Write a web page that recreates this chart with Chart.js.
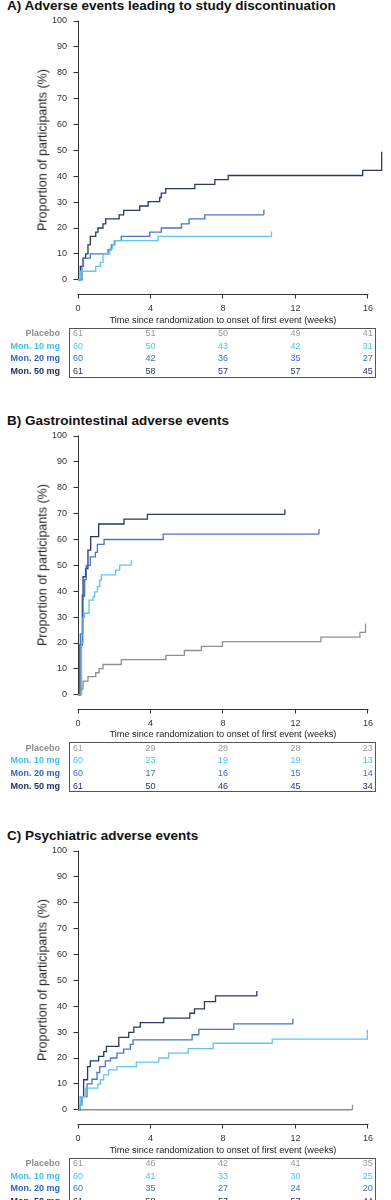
<!DOCTYPE html>
<html><head><meta charset="utf-8">
<script src="https://cdn.jsdelivr.net/npm/chart.js@4.4.1/dist/chart.umd.min.js"></script>
<style>
html,body{margin:0;padding:0;background:#fff;}
body{width:391px;height:1200px;overflow:hidden;position:relative;font-family:'Liberation Sans',Arial,Helvetica,sans-serif;}
.panel{position:absolute;left:0;width:391px;height:414px;}
.ptitle{position:absolute;left:7px;top:-2px;font-weight:bold;font-size:13.5px;line-height:16px;color:#111;white-space:nowrap;}
.cv{position:absolute;left:0;top:12px;}
.ytitle{position:absolute;font-size:12.5px;line-height:15px;color:#222;white-space:nowrap;transform:translate(-50%,-50%) rotate(-90deg);}
.xtitle{position:absolute;font-size:9.2px;line-height:11px;color:#222;white-space:nowrap;transform:translate(-50%,-50%);}
.box{position:absolute;left:69px;top:327.5px;width:305px;height:48px;border:1.5px solid #555;}
.rl{position:absolute;right:331px;font-weight:bold;font-size:9px;line-height:12px;white-space:nowrap;text-align:right;}
.num{position:absolute;font-size:9px;line-height:12px;transform:translateX(-50%);white-space:nowrap;}
</style></head><body>
<script>
// ---------- data ----------
const weekTicks = [0, 4, 8, 12, 16];
const yTicks = [0, 10, 20, 30, 40, 50, 60, 70, 80, 90, 100];
const groups = ['Placebo', 'Mon. 10 mg', 'Mon. 20 mg', 'Mon. 50 mg'];
const panelTitles = ['A) Adverse events leading to study discontinuation', 'B) Gastrointestinal adverse events', 'C) Psychiatric adverse events'];
const yTitle = 'Proportion of participants (%)';
const xTitle = 'Time since randomization to onset of first event (weeks)';

// Panel A: [week, cumulative %]
const aPlacebo = [];
const aMon10 = [[0,0],[0.13,3.3],[0.98,5.2],[1.23,6.7],[1.38,10],[1.75,11.9],[1.9,13.5],[1.99,15.1],[4.42,16.8],[10.68,16.8]];
const aMon20 = [[0,0],[0.22,5.2],[0.3,8.4],[0.68,10],[1.66,11.6],[1.84,13.5],[2.03,15.1],[2.39,16.8],[3.96,18.4],[4.6,20],[5.71,21.6],[6.13,23.5],[7.0,25.1],[10.26,25.1]];
const aMon50 = [[0,0],[0.13,5.2],[0.28,8.4],[0.42,10],[0.55,13.5],[0.68,16.8],[0.98,18.4],[1.1,20],[1.38,21.6],[1.53,23.5],[2.27,25.1],[2.52,26.8],[3.41,28.5],[3.87,30.2],[4.51,31.8],[4.6,33.5],[4.84,35.2],[6.45,36.9],[7.55,38.7],[8.29,40.3],[15.71,42.3],[16.76,47.5]];
// Panel B
const bPlacebo = [[0,0],[0.13,2.2],[0.28,5.3],[0.55,7],[0.98,8.5],[1.16,10.1],[1.38,11.7],[2.39,13.6],[4.85,15.2],[5.87,17.1],[6.81,18.7],[7.97,20.5],[13.41,22.3],[15.56,24.1],[15.87,25.6]];
const bMon10 = [[0,0],[0.2,20],[0.28,29.9],[0.37,31.5],[0.61,36.6],[0.83,37.9],[0.92,39.8],[1.07,41.8],[1.2,44.3],[1.29,46.3],[2.08,48.2],[2.3,50.1],[2.95,50.1]];
const bMon20 = [[0,0],[0.1,19.5],[0.13,23.5],[0.28,38],[0.37,44.5],[0.46,50],[0.68,53.3],[0.96,55],[1.07,58.1],[1.44,60],[4.7,62.1],[13.3,62.1]];
const bMon50 = [[0,0],[0.1,19.3],[0.24,38.5],[0.28,45.6],[0.42,48.8],[0.55,55.9],[0.7,61.1],[1.14,66],[2.54,67.9],[3.83,69.7],[11.42,69.7]];
// Panel C
const cPlacebo = [[0,0],[15.15,0]];
const cMon10 = [[0,0],[0.13,5.1],[0.41,8.4],[1.09,9.9],[1.23,11.6],[1.42,13.5],[1.69,15.4],[2.15,16.7],[3.22,18.4],[4.46,20],[5.0,21.9],[6.08,23.6],[7.46,25.7],[10.72,27.3],[15.97,29]];
const cMon20 = [[0,0],[0.13,1.9],[0.22,5.1],[0.5,10],[0.77,11.8],[1.05,14.4],[1.2,16.7],[1.51,18.9],[1.79,20],[2.15,21.9],[2.52,23.4],[2.89,25.3],[3.04,27],[6.3,29],[6.67,31.1],[8.6,33.2],[11.86,33.2]];
const cMon50 = [[0,0],[0.13,5.1],[0.31,11.6],[0.53,16.7],[0.68,18.9],[1.14,20.6],[1.42,22.5],[1.57,24.5],[2.25,28],[2.8,29.9],[3.08,31.9],[3.44,33.7],[4.73,35.4],[6.17,37.3],[6.43,39],[6.98,41.8],[7.59,44],[9.87,44]];

// Numbers at risk at weeks 0,4,8,12,16
const aRiskPlacebo = [61,51,50,49,41];
const aRiskMon10 = [60,50,43,42,31];
const aRiskMon20 = [60,42,36,35,27];
const aRiskMon50 = [61,58,57,57,45];
const bRiskPlacebo = [61,29,28,28,23];
const bRiskMon10 = [60,23,19,19,13];
const bRiskMon20 = [60,17,16,15,14];
const bRiskMon50 = [61,50,46,45,34];
const cRiskPlacebo = [61,46,42,41,35];
const cRiskMon10 = [60,41,33,30,25];
const cRiskMon20 = [60,35,27,24,20];
const cRiskMon50 = [61,58,57,57,44];

// ---------- styles ----------
const FONT = "'Liberation Sans', Arial, Helvetica, sans-serif";
const lineColors = ['#8f8f8f', '#5cc6f0', '#4a74c8', '#2a3862'];
const labelColors = ['#8c8c8c', '#3dbdec', '#2f62c8', '#1c2b5c'];
const numColors = ['#9a9a9a', '#4cc3ee', '#3d6fcf', '#1f2d5c'];
const panelTops = [0, 414.5, 830];

Chart.defaults.font.family = FONT;

const axisPlugin = {
  id: 'rAxes',
  beforeDatasetsDraw(chart) {
    const {ctx, chartArea, scales: {x, y}} = chart;
    ctx.save();
    ctx.strokeStyle = '#333';
    ctx.lineWidth = 1;
    const lx = Math.round(chartArea.left - 0.5) + 0.5;
    const by = Math.round(chartArea.bottom - 0.5) + 0.5;
    ctx.beginPath();
    ctx.moveTo(lx, y.getPixelForValue(0) + 0.5);
    ctx.lineTo(lx, y.getPixelForValue(100) - 0.5);
    ctx.moveTo(x.getPixelForValue(0) - 0.5, by);
    ctx.lineTo(x.getPixelForValue(16) + 0.5, by);
    ctx.stroke();
    ctx.restore();
  }
};
const censorPlugin = {
  id: 'censor',
  afterDatasetsDraw(chart) {
    const {ctx} = chart;
    chart.data.datasets.forEach((ds, i) => {
      const meta = chart.getDatasetMeta(i);
      if (!meta.data.length) return;
      const el = meta.data[meta.data.length - 1];
      ctx.save();
      ctx.strokeStyle = ds.borderColor;
      ctx.lineWidth = ds.borderWidth;
      ctx.beginPath();
      ctx.moveTo(el.x, el.y);
      ctx.lineTo(el.x, el.y - 5);
      ctx.stroke();
      ctx.restore();
    });
  }
};

function buildPanel(p, series, risks) {
  const panel = document.createElement('div');
  panel.className = 'panel';
  panel.style.top = panelTops[p] + 'px';
  document.body.appendChild(panel);

  const t = document.createElement('div');
  t.className = 'ptitle';
  t.textContent = panelTitles[p];
  panel.appendChild(t);

  const cv = document.createElement('canvas');
  cv.className = 'cv';
  cv.width = 391; cv.height = 314;
  cv.style.width = '391px'; cv.style.height = '314px';
  panel.appendChild(cv);

  const gridOpts = {display: true, drawOnChartArea: false, drawTicks: true, tickLength: 4.5, color: '#333', tickColor: '#333', lineWidth: 1};
  const chart = new Chart(cv, {
    type: 'line',
    data: {
      datasets: series.map((s, i) => ({
        label: groups[i],
        data: s.map(pt => ({x: pt[0], y: pt[1]})),
        borderColor: lineColors[i],
        backgroundColor: lineColors[i],
        borderWidth: 1.3,
        pointRadius: 0,
        stepped: true,
        fill: false,
        tension: 0
      }))
    },
    options: {
      responsive: false,
      animation: false,
      events: [],
      layout: {padding: {top: 9, right: 5, bottom: 0, left: 0}},
      plugins: {legend: {display: false}, tooltip: {enabled: false}, title: {display: false}},
      scales: {
        x: {
          type: 'linear', min: 0, max: 17,
          afterBuildTicks(s) { s.ticks = weekTicks.map(v => ({value: v})); },
          afterFit(s) { s.height = 32; s.paddingLeft = 0; s.paddingRight = 0; },
          grid: gridOpts,
          border: {display: false},
          ticks: {color: '#333', font: {family: FONT, size: 9}, padding: 5.1, maxRotation: 0, autoSkip: false}
        },
        y: {
          type: 'linear', min: -5.5, max: 100,
          afterBuildTicks(s) { s.ticks = yTicks.map(v => ({value: v})); },
          afterFit(s) { s.width = 78; s.paddingTop = 0; s.paddingBottom = 0; },
          grid: gridOpts,
          border: {display: false},
          ticks: {color: '#333', font: {family: FONT, size: 9}, padding: 6.5, autoSkip: false}
        }
      }
    },
    plugins: [axisPlugin, censorPlugin]
  });

  const canvasTop = 12;
  const yt = document.createElement('div');
  yt.className = 'ytitle';
  yt.textContent = yTitle;
  yt.style.left = '43px';
  yt.style.top = (canvasTop + (chart.scales.y.getPixelForValue(100) + chart.scales.y.getPixelForValue(0)) / 2) + 'px';
  panel.appendChild(yt);

  const xt = document.createElement('div');
  xt.className = 'xtitle';
  xt.textContent = xTitle;
  xt.style.left = chart.scales.x.getPixelForValue(8) + 'px';
  xt.style.top = '319.5px';
  panel.appendChild(xt);

  const box = document.createElement('div');
  box.className = 'box';
  panel.appendChild(box);

  risks.forEach((row, r) => {
    const top = 327 + 12.7 * r;
    const lab = document.createElement('div');
    lab.className = 'rl';
    lab.textContent = groups[r];
    lab.style.top = top + 'px';
    lab.style.color = labelColors[r];
    panel.appendChild(lab);
    row.forEach((n, j) => {
      const d = document.createElement('div');
      d.className = 'num';
      d.textContent = n;
      d.style.top = top + 'px';
      d.style.left = chart.scales.x.getPixelForValue(weekTicks[j]) + 'px';
      d.style.color = numColors[r];
      panel.appendChild(d);
    });
  });
}

buildPanel(0, [aPlacebo, aMon10, aMon20, aMon50], [aRiskPlacebo, aRiskMon10, aRiskMon20, aRiskMon50]);
buildPanel(1, [bPlacebo, bMon10, bMon20, bMon50], [bRiskPlacebo, bRiskMon10, bRiskMon20, bRiskMon50]);
buildPanel(2, [cPlacebo, cMon10, cMon20, cMon50], [cRiskPlacebo, cRiskMon10, cRiskMon20, cRiskMon50]);
</script>
</body></html>
